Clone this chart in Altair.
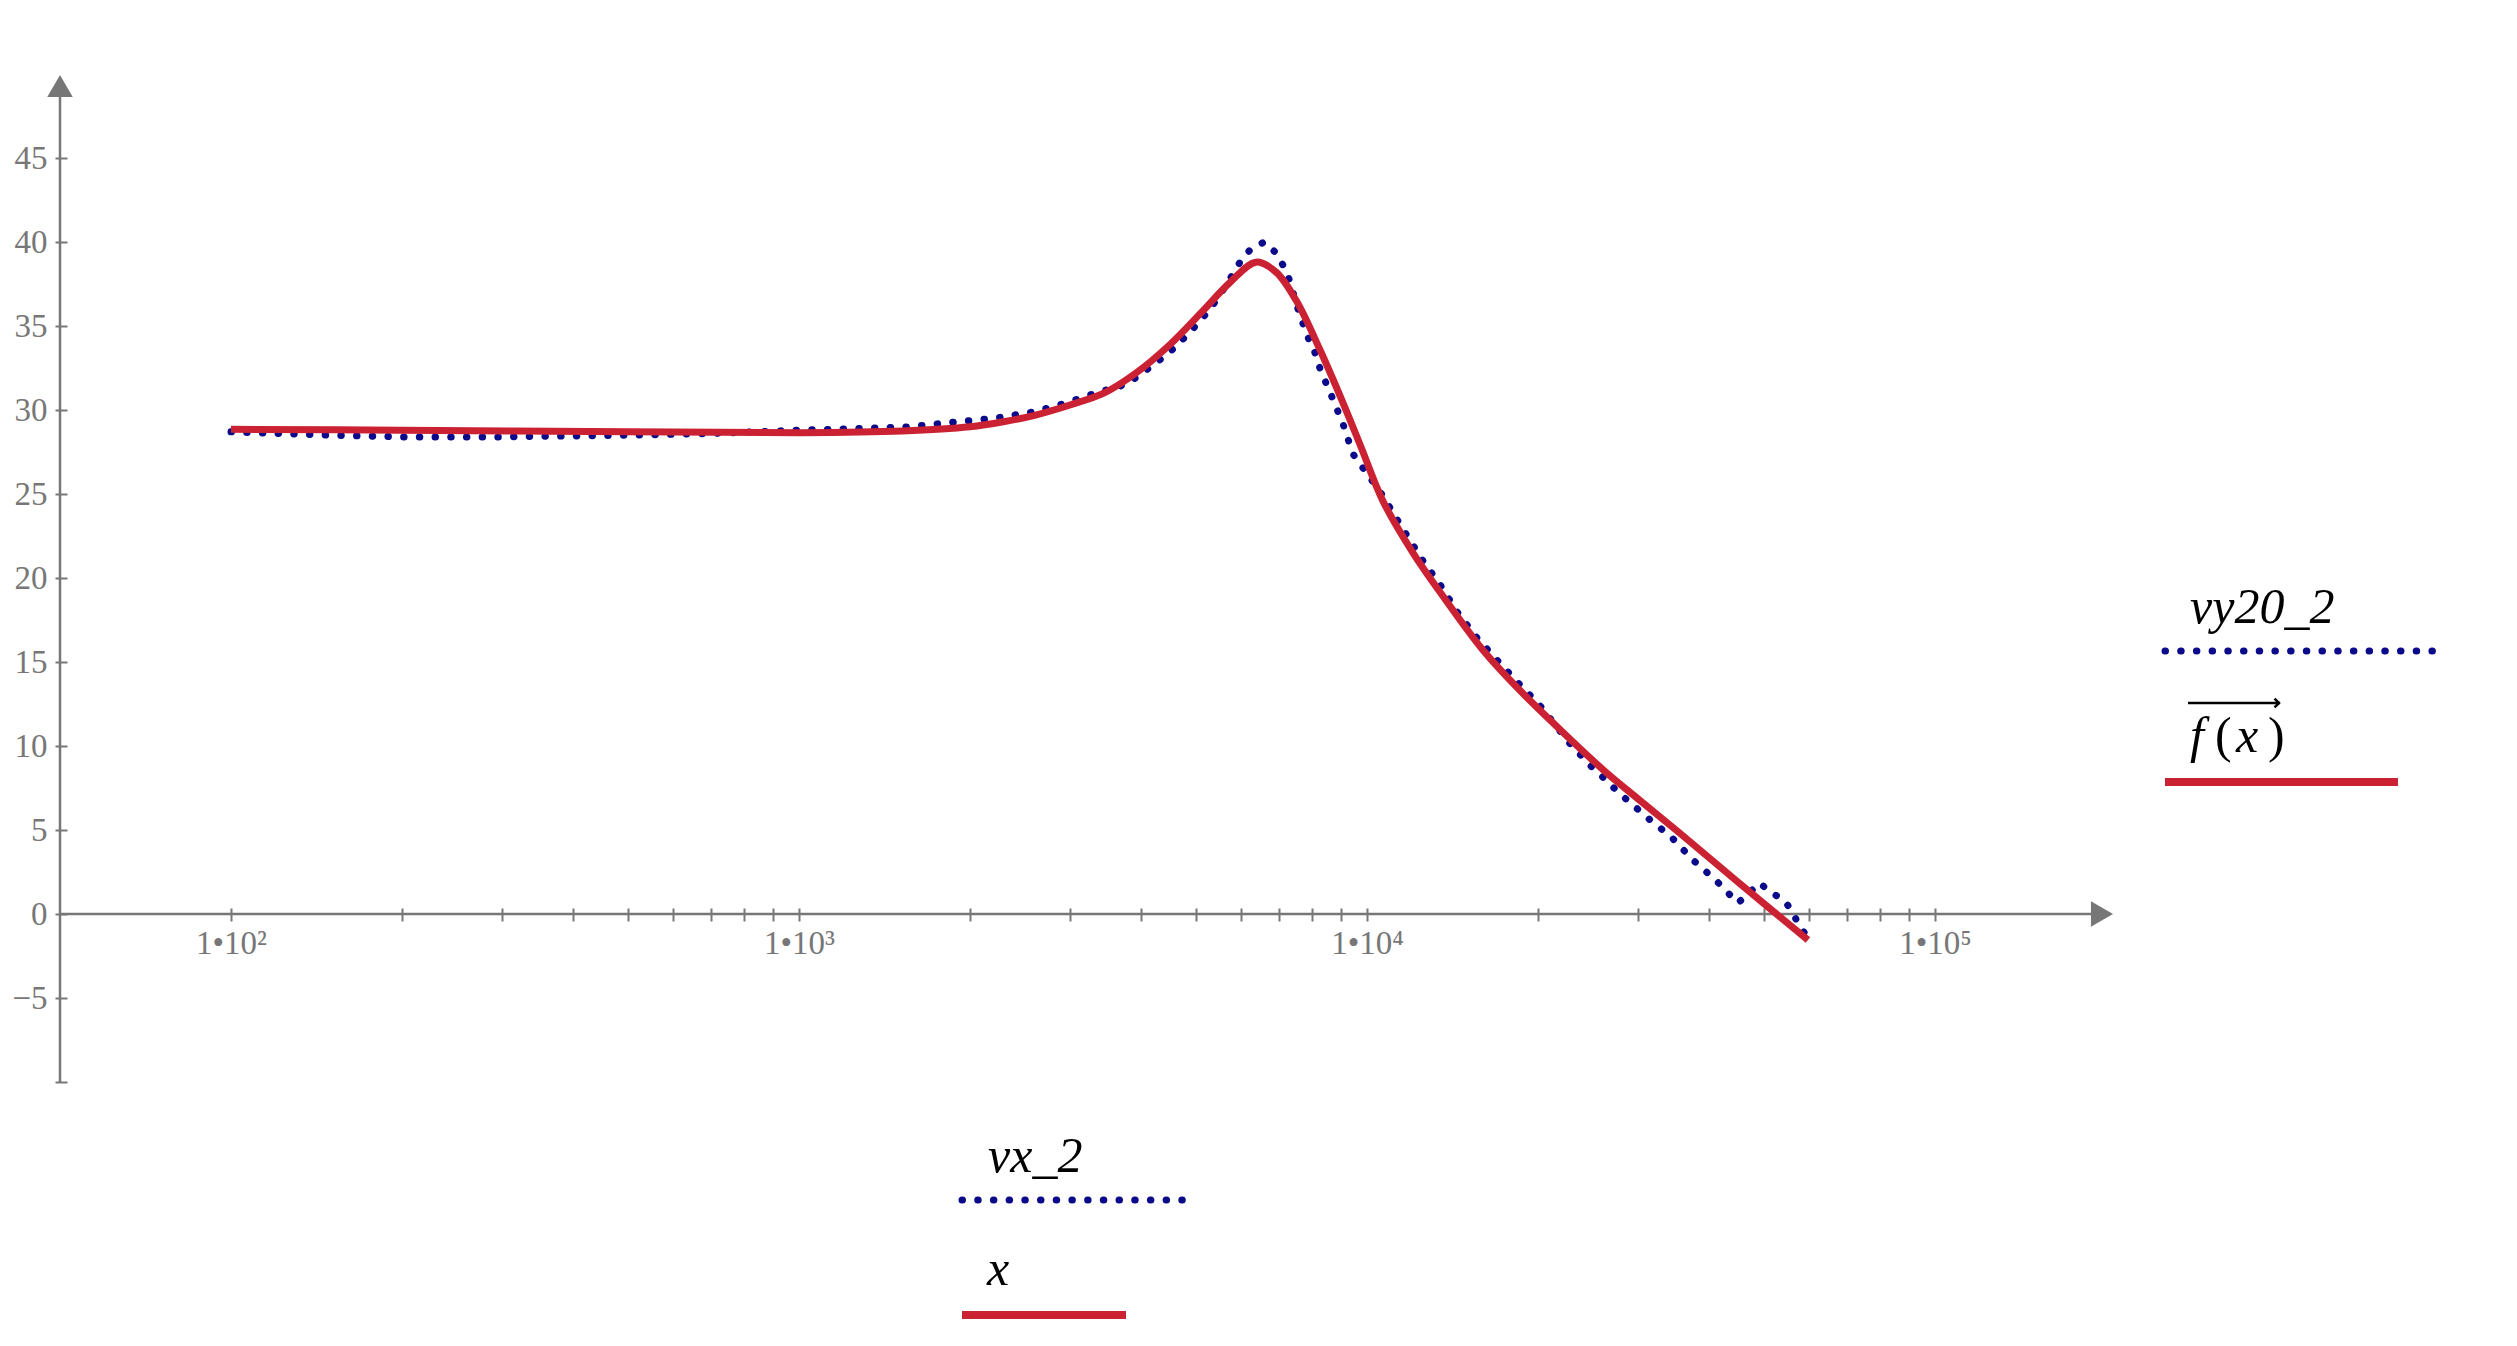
import altair as alt
import pandas as pd

# ---------------- data ----------------
# measured trace (vx_2, vy20_2)
vx_2 = [100, 150, 200, 300, 500, 700, 1000, 1300, 1570, 1900, 2200, 2600, 2940,
        3320, 3740, 3950, 4170, 4400, 4600, 4800, 5020, 5230, 5420, 5620, 6000,
        6250, 6590, 6890, 7120, 7290, 7560, 7720, 7900, 8100, 8260, 8470, 8670,
        8890, 9110, 9440, 10660, 11380, 12500, 13450, 14400, 15560, 16950, 18460,
        20170, 22690, 23720, 24790, 25920, 27210, 28450, 31250, 34290, 37520,
        41150, 44980, 49190, 51190, 53970, 55980, 57630, 59750]
vy20_2 = [28.7, 28.5, 28.4, 28.4, 28.5, 28.6, 28.8, 28.9, 29.0, 29.3, 29.5, 29.9, 30.4,
          31.0, 31.5, 32.0, 32.6, 33.2, 33.75, 34.4, 35.1, 35.8, 36.5, 37.3, 38.9,
          39.6, 40.0, 39.4, 38.6, 37.8, 36.0, 35.1, 34.2, 33.4, 32.5, 31.6, 30.8,
          29.9, 29.0, 27.4, 24.9, 23.3, 21.1, 19.6, 18.0, 16.5, 15.1, 13.75,
          12.4, 10.2, 9.5, 8.8, 8.2, 7.5, 6.9, 5.7, 4.6, 3.2,
          2.0, 0.65, 1.85, 1.3, 0.9, 0.2, -0.7, -1.4]

# fitted curve f(x)
x_fit = [100, 200, 500, 1000, 1520, 2000, 2290, 2610, 3000, 3440, 3920, 4500,
         5140, 5740, 6380, 6920, 7510, 8260, 9080, 9760, 10660, 12050, 13620,
         16010, 18600, 22150, 26020, 29760, 35580, 45000, 59750]
f_x = [28.85, 28.8, 28.7, 28.65, 28.75, 29.0, 29.3, 29.7, 30.3, 31.0, 32.2, 33.9,
       35.9, 37.6, 38.8, 38.2, 36.5, 33.6, 30.4, 27.8, 24.6, 21.5, 18.9,
       15.7, 13.3, 10.8, 8.6, 6.95, 4.8, 1.9, -1.55]

X_MIN, X_MAX = 50, 200000
Y_MIN, Y_MAX = -10, 50
x_ticks = [m * 10 ** e for e in (2, 3, 4) for m in range(1, 10)] + [100000]
x_tick_labels = {100: "1•10²", 1000: "1•10³", 10000: "1•10⁴", 100000: "1•10⁵"}
y_ticks = list(range(-10, 50, 5))

legend_y_names = ["vy20_2", "f(x)"]
legend_x_names = ["vx_2", "x"]

# ---------------- styling ----------------
W, H = 2046, 1008
BLUE = "#0a0a8a"
RED = "#cb2233"
AX = "#777777"
SERIF = "Liberation Serif, DejaVu Serif, Times New Roman, serif"
DOT = dict(strokeWidth=7, strokeCap="round", strokeDash=[0.5, 15.2])

xs = alt.Scale(type="log", domain=[X_MIN, X_MAX], nice=False)
ys = alt.Scale(domain=[Y_MIN, Y_MAX], nice=False, zero=False)

zero_px = H * (Y_MAX - 0) / (Y_MAX - Y_MIN)

label_expr_x = " : ".join(
    [f"datum.value == {k} ? '{v}'" for k, v in x_tick_labels.items()]) + " : ''"
label_expr_y = ("datum.value == -10 ? '' : (datum.value < 0 ? '\u2212' + (-datum.value) "
                ": '' + datum.value)")

x_axis = alt.Axis(values=x_ticks, labelExpr=label_expr_x, grid=False, domain=False,
                  tickSize=13, tickColor=AX, tickWidth=2,
                  offset=-(H - zero_px) - 6, labelPadding=6,
                  labelFont=SERIF, labelFontSize=33, labelColor=AX,
                  labelOverlap=False, labelFlush=False, labelBound=False, title=None)
y_axis = alt.Axis(values=y_ticks, labelExpr=label_expr_y, grid=False, domain=False,
                  tickSize=12, tickColor=AX, tickWidth=2, offset=-7, labelPadding=8,
                  labelFont=SERIF, labelFontSize=33, labelColor=AX,
                  labelOverlap=False, labelFlush=False, labelBound=False, title=None)

meas = pd.DataFrame({"x": vx_2, "y": vy20_2})
fit = pd.DataFrame({"x": x_fit, "y": f_x})
one = alt.Data(values=[{}])

blue = alt.Chart(meas).mark_line(color=BLUE, **DOT).encode(
    x=alt.X("x:Q", scale=xs, axis=x_axis),
    y=alt.Y("y:Q", scale=ys, axis=y_axis),
    order="x:Q")
red = alt.Chart(fit).mark_line(color=RED, strokeWidth=7, interpolate="catmull-rom").encode(
    x=alt.X("x:Q", scale=xs), y=alt.Y("y:Q", scale=ys), order="x:Q")

# axis lines and arrowheads
x_line = alt.Chart(one).mark_rule(color=AX, strokeWidth=2.5).encode(
    x=alt.datum(X_MIN, scale=xs), x2=alt.datum(X_MAX), y=alt.datum(0, scale=ys))
y_line = alt.Chart(one).mark_rule(color=AX, strokeWidth=2.5).encode(
    x=alt.datum(X_MIN, scale=xs), y=alt.datum(Y_MIN, scale=ys), y2=alt.datum(Y_MAX - 0.5))
x_arrow = alt.Chart(one).mark_point(shape="triangle-right", filled=True, color=AX,
                                     opacity=1, size=650, xOffset=-4).encode(
    x=alt.datum(X_MAX, scale=xs), y=alt.datum(0, scale=ys))
y_arrow = alt.Chart(one).mark_point(shape="triangle-up", filled=True, color=AX,
                                     opacity=1, size=650, yOffset=12).encode(
    x=alt.datum(X_MIN, scale=xs), y=alt.datum(Y_MAX, scale=ys))


def txt(s, x, y, size=50, italic=True):
    return alt.Chart(one).mark_text(
        text=s, font=SERIF, fontSize=size, fontStyle="italic" if italic else "normal",
        color="black", align="left", baseline="alphabetic").encode(
        x=alt.value(x), y=alt.value(y))


def seg(x1, x2, y, dotted, color):
    style = DOT if dotted else dict(strokeWidth=8)
    return alt.Chart(one).mark_rule(color=color, **style).encode(
        x=alt.value(x1), x2=alt.value(x2), y=alt.value(y))


legend = [
    txt(legend_y_names[0], 2130, 549),
    seg(2105, 2387, 577, True, BLUE),
    txt("f", 2130, 678),
    txt("(", 2155, 678, italic=False),
    txt("x", 2176, 678),
    txt(")", 2208, 678, italic=False),
    alt.Chart(one).mark_rule(color="black", strokeWidth=2.5).encode(
        x=alt.value(2128), x2=alt.value(2220), y=alt.value(629)),
    alt.Chart(one).mark_point(shape="M-1,-1L0,0L-1,1", filled=False, color="black",
                              strokeWidth=2.5, size=80, opacity=1).encode(
        x=alt.value(2219), y=alt.value(629)),
    seg(2105, 2338, 708, False, RED),
    txt(legend_x_names[0], 928, 1098),
    seg(902, 1137, 1126, True, BLUE),
    txt(legend_x_names[1], 927, 1211),
    seg(902, 1066, 1241, False, RED),
]

chart = alt.layer(x_line, y_line, x_arrow, y_arrow, blue, red, *legend).properties(
    width=W, height=H,
    autosize=alt.AutoSizeParams(type="none"),
    padding={"left": 52, "top": 66, "right": 395, "bottom": 250},
).configure_view(stroke=None)

chart.save("out.html", embed_options={"renderer": "svg", "actions": False})
